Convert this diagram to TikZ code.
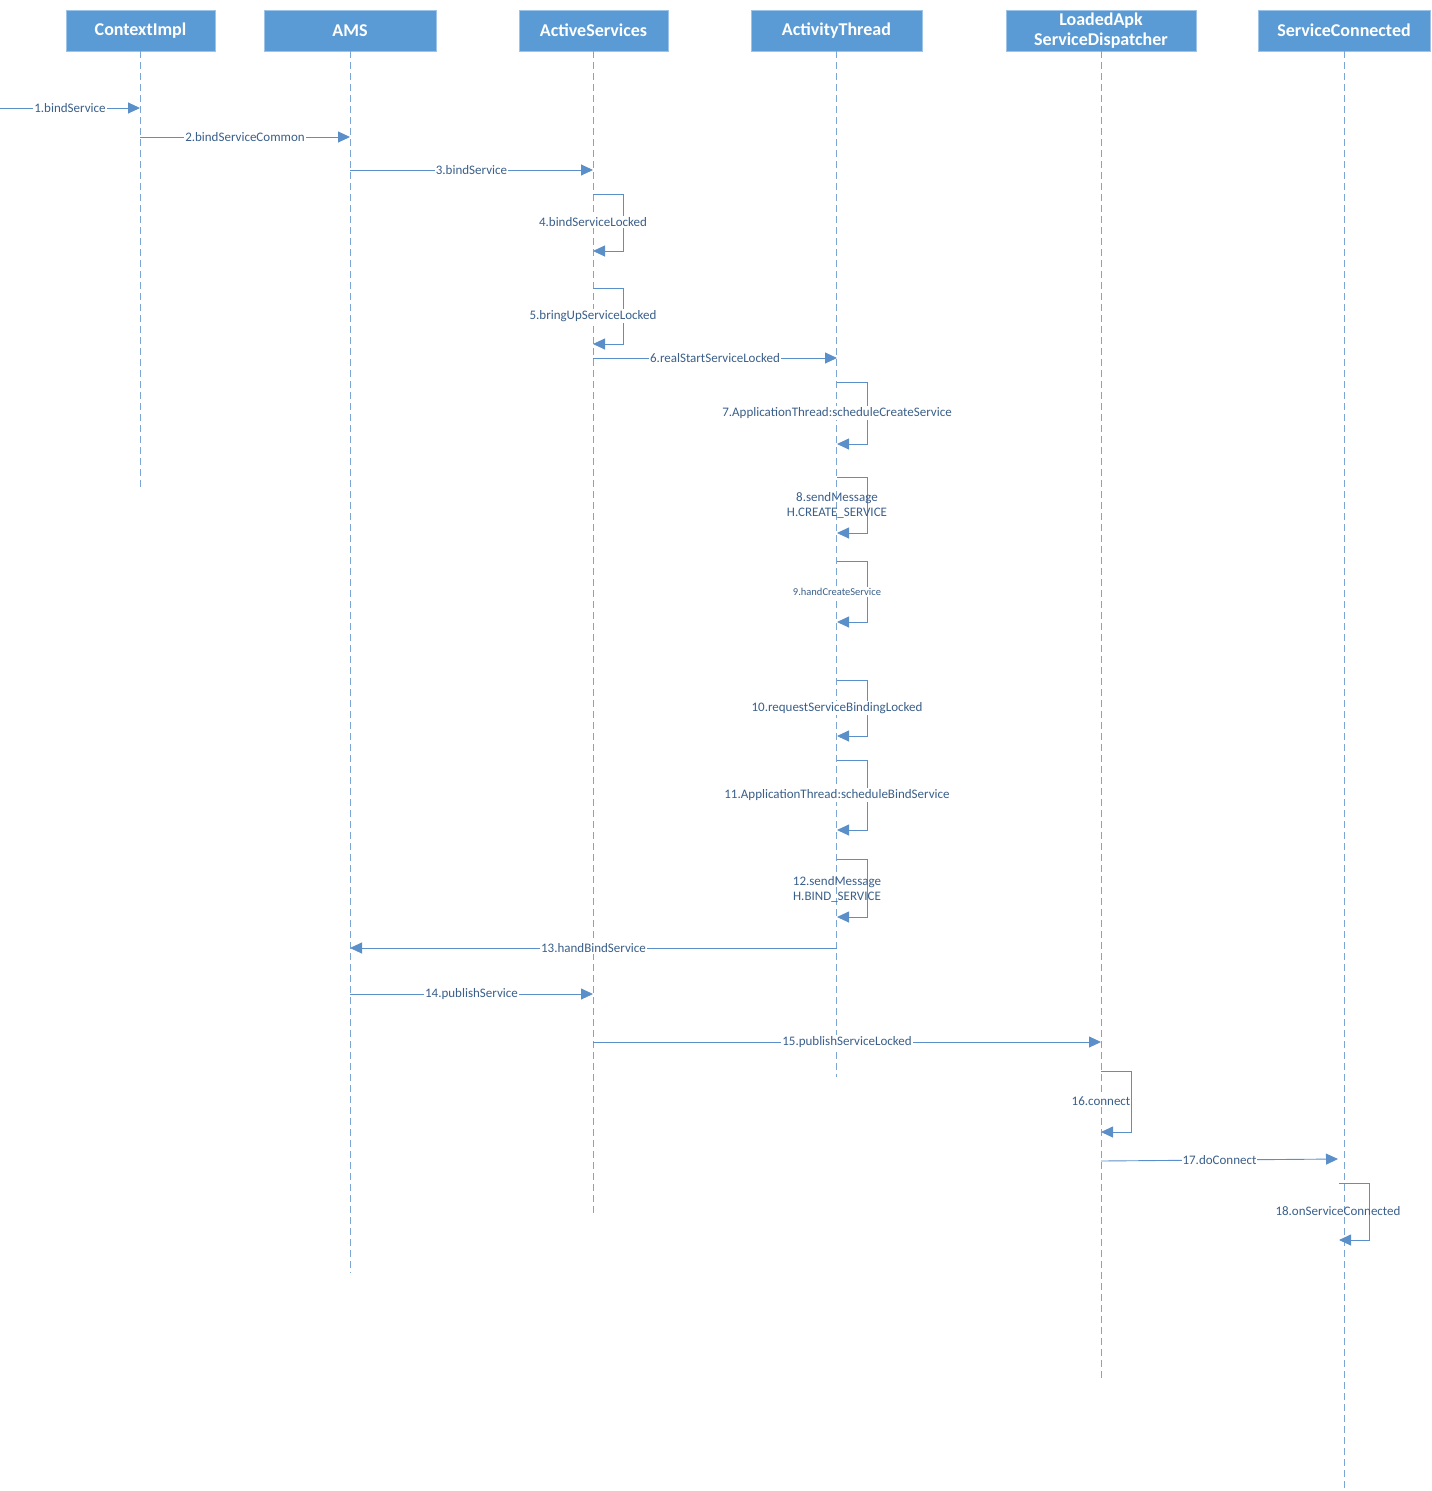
\documentclass[tikz,border=0pt]{standalone}
\usepackage{fontspec}
\setmainfont{Carlito}
\usetikzlibrary{arrows.meta}
\definecolor{hdr}{HTML}{5B9BD5}
\definecolor{ln}{HTML}{5B8FC9}
\definecolor{txt}{HTML}{3A5F8A}
\begin{document}
\begin{tikzpicture}[x=1pt,y=-1pt,
  hdr/.style={draw=hdr!60,fill=hdr,text=white,font=\fontsize{18}{20}\selectfont\bfseries,minimum height=41pt,inner sep=0pt,align=center},
  life/.style={draw=ln!80,dash pattern=on 7pt off 4pt,line width=0.8pt},
  msg/.style={draw=ln,line width=0.9pt,-{Triangle[length=12pt,width=11pt]}},
  lbl/.style={fill=white,text=txt,font=\fontsize{13}{15}\selectfont,inner sep=1pt,align=center}]
\useasboundingbox (0,0) rectangle (1432,1491);
% headers
\node[hdr,minimum width=149pt] (h1) at (140.5,30.5) {ContextImpl};
\node[hdr,minimum width=172pt] (h2) at (350,30.5) {AMS};
\node[hdr,minimum width=149pt] (h3) at (593.5,30.5) {ActiveServices};
\node[hdr,minimum width=171pt] (h4) at (836.5,30.5) {ActivityThread};
\node[hdr,minimum width=190pt] (h5) at (1101,30.5) {LoadedApk\\ServiceDispatcher};
\node[hdr,minimum width=172pt] (h6) at (1344,30.5) {ServiceConnected};
% lifelines
\coordinate (e1) at (140,490);
\coordinate (e2) at (350,1273);
\coordinate (e3) at (593,1213);
\coordinate (e4) at (837,1077);
\coordinate (e5) at (1101,1380);
\coordinate (e6) at (1343,1488);
\foreach \i in {1,...,6} \draw[life] (h\i.south) -- (h\i.south |- e\i);
% messages
\coordinate (s1) at (0,108);
\draw[msg] (s1) -- node[lbl,pos=0.5]{1.bindService} (140,108);
\draw[msg] (140,137) -- node[lbl]{2.bindServiceCommon} (350,137);
\draw[msg] (350,170) -- node[lbl]{3.bindService} (593,170);
\draw[msg] (593,194) -- (623,194) -- (623,251) -- (593,251);
\node[lbl] at (593,222) {4.bindServiceLocked};
\draw[msg] (593,288) -- (623,288) -- (623,344) -- (593,344);
\node[lbl] at (593,316) {5.bringUpServiceLocked};
\draw[msg] (593,358) -- node[lbl]{6.realStartServiceLocked} (837,358);
\draw[msg] (837,382) -- (867,382) -- (867,444) -- (837,444);
\node[lbl] at (837,413) {7.ApplicationThread:scheduleCreateService};
\draw[msg] (837,477) -- (867,477) -- (867,533) -- (837,533);
\node[lbl,fill=none] at (837,505) {8.sendMessage\\H.CREATE\_SERVICE};
\draw[msg] (837,561) -- (867,561) -- (867,622) -- (837,622);
\node[lbl,font=\fontsize{10.5}{12}\selectfont] at (837,592) {9.handCreateService};
\draw[msg] (837,680) -- (867,680) -- (867,736) -- (837,736);
\node[lbl] at (837,708) {10.requestServiceBindingLocked};
\draw[msg] (837,760) -- (867,760) -- (867,830) -- (837,830);
\node[lbl] at (837,795) {11.ApplicationThread:scheduleBindService};
\draw[msg] (837,859) -- (867,859) -- (867,917) -- (837,917);
\node[lbl,fill=none] at (837,889) {12.sendMessage\\H.BIND\_SERVICE};
\draw[msg] (837,948) -- node[lbl,pos=0.5]{13.handBindService} (350,948);
\draw[msg] (350,994) -- node[lbl]{14.publishService} (593,994);
\draw[msg] (593,1042) -- node[lbl]{15.publishServiceLocked} (1101,1042);
\draw[msg] (1101,1071) -- (1131,1071) -- (1131,1132) -- (1101,1132);
\node[lbl] at (1101,1101) {16.connect};
\draw[msg] (1101,1161) -- node[lbl,pos=0.5]{17.doConnect} (1338,1159);
\draw[msg] (1339,1183) -- (1369,1183) -- (1369,1240) -- (1339,1240);
\node[lbl,fill=none] at (1338,1211) {18.onServiceConnected};
\end{tikzpicture}
\end{document}
